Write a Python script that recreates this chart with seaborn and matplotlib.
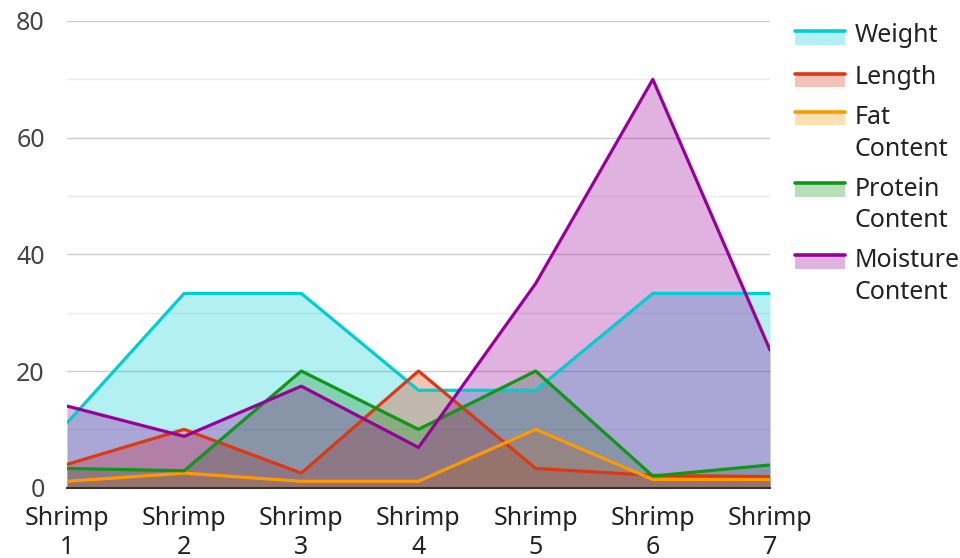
import matplotlib
matplotlib.use("Agg")
import matplotlib.pyplot as plt
from matplotlib.legend_handler import HandlerBase
from matplotlib.patches import Rectangle
from matplotlib.lines import Line2D
from matplotlib.ticker import MultipleLocator
import seaborn as sns
import pandas as pd

categories = ["Shrimp\n1", "Shrimp\n2", "Shrimp\n3", "Shrimp\n4", "Shrimp\n5", "Shrimp\n6", "Shrimp\n7"]
weight = [11.1, 33.3, 33.3, 16.7, 16.7, 33.3, 33.3]
length = [4.0, 10.0, 2.5, 20.0, 3.3, 2.1, 1.9]
fat = [1.1, 2.5, 1.1, 1.1, 10.0, 1.4, 1.4]
protein = [3.3, 2.9, 20.0, 10.0, 20.0, 2.0, 3.9]
moisture = [14.0, 8.8, 17.4, 6.9, 35.0, 70.0, 23.6]

series_names = ["Weight", "Length", "Fat\nContent", "Protein\nContent", "Moisture\nContent"]
series_values = [weight, length, fat, protein, moisture]
colors = ["#00CED1", "#DC3912", "#FF9900", "#109618", "#990099"]

rows = []
for name, vals in zip(series_names, series_values):
    for i, v in enumerate(vals):
        rows.append({"x": i, "value": v, "series": name})
df = pd.DataFrame(rows)

sns.set_style("white")
plt.rcParams["font.family"] = ["Noto Sans", "DejaVu Sans"]
FS = 18

fig = plt.figure(figsize=(9.6, 5.58), dpi=100)
ax = fig.add_axes([67 / 960, 1 - 487.7 / 558, (770 - 67) / 960, (487.7 - 21) / 558])

for name, vals, c in zip(series_names, series_values, colors):
    ax.fill_between(range(len(vals)), 0, vals, color=c, alpha=0.3, linewidth=0, zorder=2)

sns.lineplot(data=df, x="x", y="value", hue="series", palette=colors,
             hue_order=series_names, linewidth=2.3, ax=ax, legend=False, zorder=3)

ax.set_xlim(0, len(categories) - 1)
ax.set_ylim(0, 80)
ax.set_xticks(range(len(categories)))
ax.set_xticklabels(categories)
ax.yaxis.set_major_locator(MultipleLocator(20))
ax.yaxis.set_minor_locator(MultipleLocator(10))
ax.grid(True, which="major", axis="y", color="#cccccc", linewidth=1, zorder=0)
ax.grid(True, which="minor", axis="y", color="#ebebeb", linewidth=1, zorder=0)
ax.set_axisbelow(True)
ax.set_xlabel("")
ax.set_ylabel("")
for s in ["top", "right", "left"]:
    ax.spines[s].set_visible(False)
ax.spines["bottom"].set_color("#333333")
ax.spines["bottom"].set_linewidth(1.5)
ax.spines["bottom"].set_zorder(4)
ax.tick_params(axis="y", which="both", length=0, pad=16, labelsize=FS, labelcolor="#444444")
ax.tick_params(axis="x", length=0, pad=13, labelsize=FS, labelcolor="#222222")


class AreaHandler(HandlerBase):
    def __init__(self, color, nlines):
        super().__init__()
        self.color = color
        self.nlines = nlines

    def create_artists(self, legend, orig_handle, xdescent, ydescent, width, height, fontsize, trans):
        h = 10.0
        y0 = -ydescent + 1.0 + (self.nlines - 1) * 15.0
        r = Rectangle((-xdescent, y0), width, h, facecolor=self.color, alpha=0.3,
                      linewidth=0, transform=trans)
        l = Line2D([-xdescent, -xdescent + width], [y0 + h, y0 + h],
                   color=self.color, linewidth=2.6, transform=trans)
        return [r, l]


handles = [Rectangle((0, 0), 1, 1) for _ in series_names]
hmap = {h: AreaHandler(c, n.count("\n") + 1) for h, c, n in zip(handles, colors, series_names)}
leg = fig.legend(handles, series_names, handler_map=hmap, loc="upper left",
                 bbox_to_anchor=(785 / 960, 1 - 10 / 558), frameon=False, fontsize=FS,
                 handlelength=2.0, handleheight=1.24, handletextpad=0.4, labelspacing=0.6,
                 borderaxespad=0)
for t in leg.get_texts():
    t.set_color("#222222")
    t.set_linespacing(1.35)

fig.savefig("out.png", dpi=100)
